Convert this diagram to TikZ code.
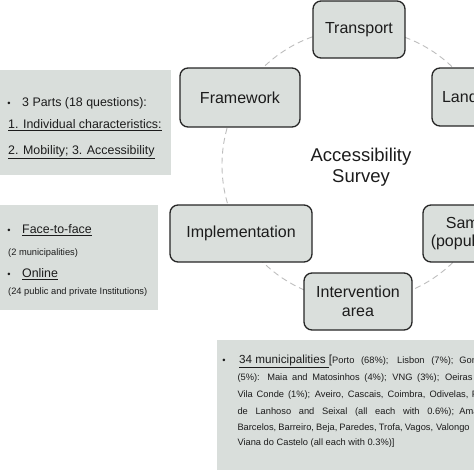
\documentclass[tikz,border=0pt]{standalone}
\usepackage{fontspec}
\setmainfont{Liberation Sans}
\usetikzlibrary{positioning}
\definecolor{boxfill}{HTML}{DADFDC}
\definecolor{infofill}{HTML}{D9DEDB}
\definecolor{edgex}{HTML}{262626}
\definecolor{ringx}{HTML}{BDBDBD}
\definecolor{textx}{HTML}{1C1C1C}
\newcommand{\notesize}{\fontsize{9.3}{11}\selectfont}
\newcommand{\itemsize}{\fontsize{12.4}{15}\selectfont}

\begin{document}
\begin{tikzpicture}[
      x=1pt, y=-1pt,
      topic/.style={rectangle, rounded corners=8pt, draw=edgex, line width=1.3pt,
                    fill=boxfill, align=center, inner sep=0pt, text=textx,
                    font=\fontsize{16}{18.5}\selectfont},
      info/.style={rectangle, fill=infofill, inner sep=0pt},
      item/.style={anchor=base west, inner sep=0pt, text=textx, font=\itemsize},
      note/.style={anchor=base west, inner sep=0pt, text=textx, font=\notesize},
      bul/.style={anchor=base, inner sep=0pt, text=textx, font=\notesize},
      ring/.style={draw=ringx, line width=0.9pt, dash pattern=on 6pt off 4pt}
    ]
    \useasboundingbox (0,0) rectangle (474,469);
    \clip (0,0) rectangle (474,469);
    % survey ring
    \draw[ring] (358,165) circle[radius=136pt];
    \node[align=center, text=textx, font=\fontsize{18.5}{21}\selectfont] (survey) at (361,167.5) {Accessibility\\Survey};
    % topics round the ring
    \node[topic, minimum width=92pt,  minimum height=57pt] (transport) at (359,29.5)  {Transport};
    \node[topic, minimum width=120pt, minimum height=59pt] (framework) at (240,97.5)  {Framework};
    \node[topic, minimum width=86pt,  minimum height=58pt] (landuse)   at (475,97)    {Land use};
    \node[topic, minimum width=142pt, minimum height=57pt] (implem)    at (241,233.5) {Implementation};
    \node[topic, minimum width=100pt, minimum height=57pt] (sample)    at (473,233.5) {Sample\\(population)};
    \node[topic, minimum width=108pt, minimum height=57pt] (area)      at (358,301.5) {Intervention\\area};
    % framework notes
    \node[info, minimum width=176pt, minimum height=105pt] (parts) at (83,122.5) {};
    \node[bul]  (pb1)    at (9,106)   {•};
    \node[item] (parts1) at (22,106)  {3 Parts (18 questions):};
    \node[item] (parts2) at (8,128.5) {\underline{1. Individual characteristics:}};
    \node[item] (parts3) at (8,154)   {\underline{2. Mobility; 3. Accessibility}};
    % implementation notes
    \node[info, minimum width=163pt, minimum height=105pt] (modes) at (76.5,257.5) {};
    \node[bul]  (mb1)    at (9,233.3)  {•};
    \node[item] (modes1) at (22,233.3) {\underline{Face-to-face}};
    \node[note] (modes2) at (8,255)    {(2 municipalities)};
    \node[bul]  (mb2)    at (9,277.5)  {•};
    \node[item] (modes3) at (22,277.5) {\underline{Online}};
    \node[note] (modes4) at (8,294)    {(24 public and private Institutions)};
    % intervention area notes
    \node[info, minimum width=270pt, minimum height=140pt] (munis) at (352,410) {};
    \node[bul]  (ab1)    at (224,363.3) {•};
    \node[item] (munis1) at (239,363.3) {\makebox[214.3pt][s]{\fontsize{11.7}{14}\selectfont\underline{34 municipalities\ }[\notesize Porto (68\%); Lisbon (7\%);}\hspace{6pt}{\notesize Gondomar}};
    \node[note] (munis2) at (237.3,380.7) {\makebox[235pt][s]{(5\%): Maia and Matosinhos (4\%); VNG (3\%); Oeiras}};
    \node[note] (munis3) at (237.3,397.7) {\makebox[231pt][s]{Vila Conde (1\%); Aveiro, Cascais, Coimbra, Odivelas,}\hspace{3.4pt}Póvoa};
    \node[note] (munis4) at (237.3,414.3) {\makebox[216.7pt][s]{de Lanhoso and Seixal (all each with 0.6\%);}\hspace{5.3pt}Amarante};
    \node[note] (munis5) at (237.3,430.7) {\makebox[195.7pt][s]{Barcelos, Barreiro, Beja, Paredes, Trofa, Vagos,}\hspace{3pt}Valongo};
    \node[note] (munis6) at (237.3,445.7) {Viana do Castelo (all each with 0.3\%)]};
  \end{tikzpicture}
\end{document}
